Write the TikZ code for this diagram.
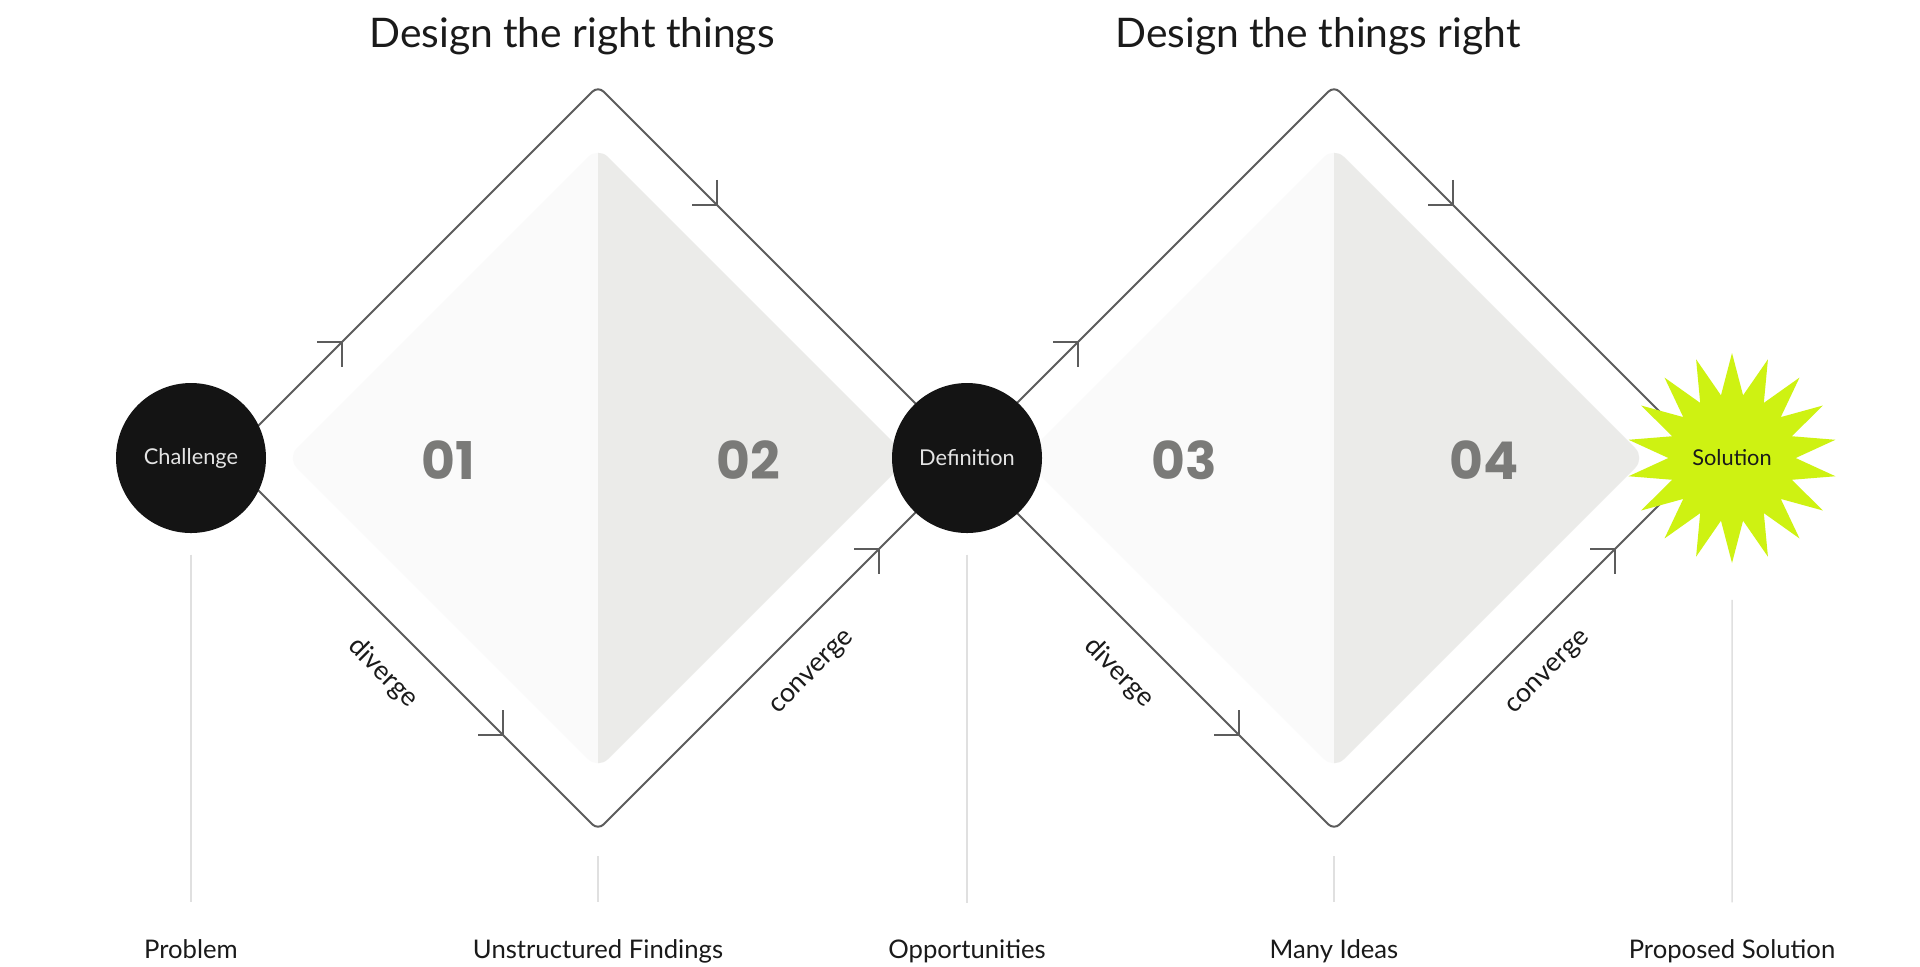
\documentclass[tikz,border=0pt]{standalone}
\usepackage{fontspec}
\setmainfont{Lato}
\newfontfamily\numfont{Poppins}
\usetikzlibrary{shapes.geometric, arrows.meta, positioning, calc, decorations.markings}
\definecolor{ddInk}{RGB}{26, 26, 26}
\definecolor{ddBlack}{RGB}{20, 20, 20}
\definecolor{ddLine}{RGB}{92, 92, 92}
\definecolor{ddGuide}{RGB}{224, 224, 224}
\definecolor{ddLight}{RGB}{250, 250, 250}
\definecolor{ddShade}{RGB}{235, 235, 233}
\definecolor{ddNumber}{RGB}{122, 122, 120}
\definecolor{ddLime}{RGB}{206, 242, 18}
\definecolor{ddCircleText}{RGB}{228, 228, 228}

\begin{document}
\begin{tikzpicture}[
            circ/.style={circle, fill=ddBlack, minimum size=1.5cm, inner sep=0pt,
                        text=ddCircleText, font=\fontsize{6.2}{7}\selectfont},
            burst/.style={star, star points=18, star point ratio=1.65, minimum size=2.1cm,
                        inner sep=0pt, fill=ddLime, text=ddInk, font=\fontsize{6.2}{7}\selectfont},
            title/.style={anchor=base, inner sep=0pt, text=ddInk, font=\fontsize{11.6}{13}\selectfont},
            stage/.style={anchor=base, inner sep=0pt, text=ddInk, font=\fontsize{7.3}{8}\selectfont},
            num/.style={text=ddNumber, font=\numfont\bfseries\fontsize{14.8}{16}\selectfont},
            flowlabel/.style={inner sep=0pt, text=ddInk, font=\fontsize{7.6}{8}\selectfont},
            guide/.style={draw=ddGuide, line width=0.015cm},
            barb/.tip={Straight Barb[angle=90:0.25cm, line width=0.02cm]},
            edge/.style={draw=ddLine, line width=0.02cm, rounded corners=0.08cm, postaction={decorate}},
            toparrows/.style={decoration={markings, mark=at position 0.158 with {\arrow{barb}},
                        mark=at position 0.66 with {\arrow{barb}}}},
            botarrows/.style={decoration={markings, mark=at position 0.375 with {\arrow{barb}},
                        mark=at position 0.879 with {\arrow{barb}}}}
        ]
            \fill[white] (0,0) rectangle (19.2,-9.66);

            % Diamond centres and corners
            \coordinate (c1) at (5.98,-4.58);
            \coordinate (c2) at (13.34,-4.58);
            \coordinate (t1) at ($(c1)+(0,3.72)$);
            \coordinate (b1) at ($(c1)+(0,-3.72)$);
            \coordinate (l1) at ($(c1)+(-3.72,0)$);
            \coordinate (r1) at ($(c1)+(3.72,0)$);
            \coordinate (t2) at ($(c2)+(0,3.72)$);
            \coordinate (b2) at ($(c2)+(0,-3.72)$);
            \coordinate (l2) at ($(c2)+(-3.72,0)$);
            \coordinate (r2) at ($(c2)+(3.72,0)$);

            % Shaded inner diamonds
            \fill[ddLight, rounded corners=0.14cm] ($(c1)+(0,3.11)$) -- ($(c1)+(-3.11,0)$) -- ($(c1)+(0,-3.11)$) -- ($(c1)+(3.11,0)$) -- cycle;
            \begin{scope}
                \clip ($(c1)+(0,3.2)$) rectangle ($(c1)+(3.2,-3.2)$);
                \fill[ddShade, rounded corners=0.14cm] ($(c1)+(0,3.11)$) -- ($(c1)+(-3.11,0)$) -- ($(c1)+(0,-3.11)$) -- ($(c1)+(3.11,0)$) -- cycle;
            \end{scope}
            \fill[ddLight, rounded corners=0.14cm] ($(c2)+(0,3.11)$) -- ($(c2)+(-3.11,0)$) -- ($(c2)+(0,-3.11)$) -- ($(c2)+(3.11,0)$) -- cycle;
            \begin{scope}
                \clip ($(c2)+(0,3.2)$) rectangle ($(c2)+(3.2,-3.2)$);
                \fill[ddShade, rounded corners=0.14cm] ($(c2)+(0,3.11)$) -- ($(c2)+(-3.11,0)$) -- ($(c2)+(0,-3.11)$) -- ($(c2)+(3.11,0)$) -- cycle;
            \end{scope}

            % Phase numbers
            \node[num] (n1) at ($(c1)+(-1.5,-0.02)$) {01};
            \node[num] (n2) at ($(c1)+(1.5,-0.02)$) {02};
            \node[num] (n3) at ($(c2)+(-1.5,-0.02)$) {03};
            \node[num] (n4) at ($(c2)+(1.5,-0.02)$) {04};

            % Diamond outlines
            \draw[edge, toparrows] (l1) -- (t1) -- (r1);
            \draw[edge, botarrows] (l1) -- (b1) -- (r1);
            \draw[edge, toparrows] (l2) -- (t2) -- (r2);
            \draw[edge, botarrows] (l2) -- (b2) -- (r2);

            \path (l1) -- (b1) node[flowlabel, pos=0.5, sloped, below=0.28cm] (div1) {diverge};
            \path (b1) -- (r1) node[flowlabel, pos=0.5, sloped, below=0.31cm] (conv1) {converge};
            \path (l2) -- (b2) node[flowlabel, pos=0.5, sloped, below=0.28cm] (div2) {diverge};
            \path (b2) -- (r2) node[flowlabel, pos=0.5, sloped, below=0.31cm] (conv2) {converge};

            % Milestones
            \node[circ] (challenge) at (1.91,-4.58) {Challenge};
            \node[circ] (definition) at (9.67,-4.58) {Definition};
            \node[burst] (solution) at (17.32,-4.58) {Solution};

            % Titles
            \node[title] (title1) at (5.72,-0.47) {Design the right things};
            \node[title] (title2) at (13.18,-0.47) {Design the things right};

            % Bottom labels
            \node[stage] (problem) at (1.91,-9.58) {Problem};
            \node[stage] (findings) at (5.98,-9.58) {Unstructured Findings};
            \node[stage] (opportunities) at (9.67,-9.58) {Opportunities};
            \node[stage] (ideas) at (13.34,-9.58) {Many Ideas};
            \node[stage] (proposed) at (17.32,-9.58) {Proposed Solution};

            \draw[guide, shorten <=0.21cm, shorten >=0.36cm] (challenge) -- (problem);
            \draw[guide, shorten <=0.26cm, shorten >=0.36cm] (b1) -- (findings);
            \draw[guide, shorten <=0.21cm, shorten >=0.36cm] (definition) -- (opportunities);
            \draw[guide, shorten <=0.26cm, shorten >=0.36cm] (b2) -- (ideas);
            \draw[guide, shorten <=0.34cm, shorten >=0.36cm] (solution) -- (proposed);
        \end{tikzpicture}
\end{document}
